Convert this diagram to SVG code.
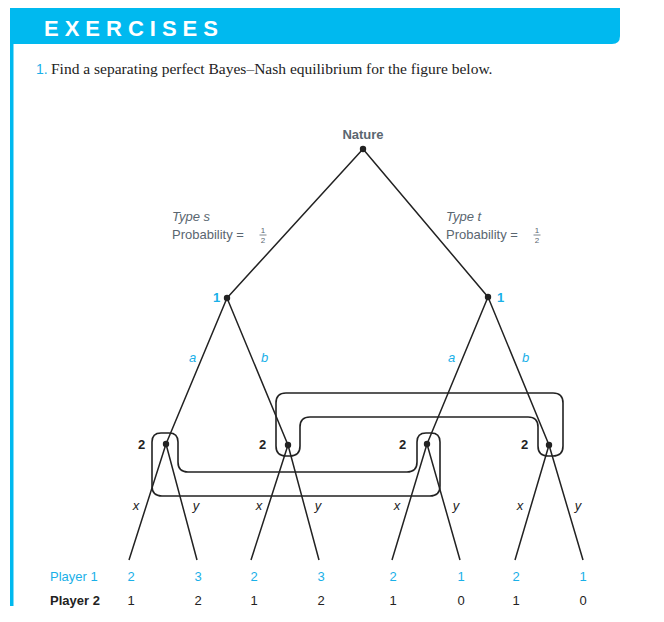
<svg xmlns="http://www.w3.org/2000/svg" width="664" height="622" viewBox="0 0 664 622">
<style>
.e{stroke:#222;stroke-width:1.5;fill:none}
.s{fill:none;stroke:#222;stroke-width:1.6}
.d{fill:#222}
.t{font-family:"Liberation Sans",Arial,sans-serif;font-size:13px}
.g{fill:#5a6670}
.b{fill:#1ab0e8}
.k{fill:#222}
</style>
<rect width="664" height="622" fill="#fff"/>
<path d="M10 8 H620 V36 Q620 44 612 44 H10 Z" fill="#00b9ef"/>
<rect x="10" y="44" width="3.5" height="562" fill="#00b9ef"/>
<text x="44" y="36" font-family="Liberation Sans,Arial,sans-serif" font-weight="bold" font-size="22" fill="#fff" letter-spacing="6">EXERCISES</text>
<text x="36" y="74" font-family="Liberation Sans,Arial,sans-serif" font-size="14" fill="#1ab0e8">1.</text>
<text x="51" y="74" font-family="Liberation Serif,Times New Roman,serif" font-size="15.5" fill="#222">Find a separating perfect Bayes–Nash equilibrium for the figure below.</text>
<g id="connectors">
<path class="e" d="M363 149 L227 298 M363 149 L488 297 M227 298 L166 444 M227 298 L288 445 M488 297 L427 444 M488 297 L549 445 M166 444 L129 560 M166 444 L197 560 M288 445 L251 560 M288 445 L319 560 M427 444 L392 560 M427 444 L460 560 M549 445 L515 560 M549 445 L583 560"/>
<path class="s" d="M152 486 V442 Q152 433 161 433 H169 Q178 433 178 442 V462 Q178 472 188 472 H407 Q417 472 417 462 V442 Q417 433 426 433 H431 Q440 433 440 442 V486 Q440 496 430 496 H162 Q152 496 152 486 Z"/>
<path class="s" d="M276 446 V403 Q276 393 286 393 H553 Q563 393 563 403 V446 Q563 456 553 456 H548 Q538 456 538 446 V427 Q538 417 528 417 H310 Q300 417 300 427 V446 Q300 456 290 456 H286 Q276 456 276 446 Z"/>
</g>
<g id="nature"><circle class="d" cx="363" cy="149" r="3.2"/><text class="t g" x="363" y="139" text-anchor="middle" font-weight="bold">Nature</text></g>
<g id="types" class="t g">
<text x="172" y="221" font-style="italic">Type s</text>
<text x="172" y="239">Probability =</text>
<text x="263" y="233" font-size="8" text-anchor="middle">1</text><line x1="259.5" y1="235" x2="266.5" y2="235" stroke="#5a6670" stroke-width="0.8"/><text x="263" y="243" font-size="8" text-anchor="middle">2</text>
<text x="446" y="221" font-style="italic">Type t</text>
<text x="446" y="239">Probability =</text>
<text x="537" y="233" font-size="8" text-anchor="middle">1</text><line x1="533.5" y1="235" x2="540.5" y2="235" stroke="#5a6670" stroke-width="0.8"/><text x="537" y="243" font-size="8" text-anchor="middle">2</text>
</g>
<g id="p1s"><circle class="d" cx="227" cy="298" r="3.2"/><text class="t b" x="213" y="302" font-weight="bold">1</text>
<text class="t b" x="189" y="362" font-style="italic" font-size="11">a</text><text class="t b" x="261" y="362" font-style="italic" font-size="11">b</text></g>
<g id="p1t"><circle class="d" cx="488" cy="297" r="3.2"/><text class="t b" x="497" y="302" font-weight="bold">1</text>
<text class="t b" x="448" y="362" font-style="italic" font-size="11">a</text><text class="t b" x="522" y="362" font-style="italic" font-size="11">b</text></g>
<g id="n2a"><circle class="d" cx="166" cy="444" r="3.2"/><text class="t k" x="138" y="449" font-weight="bold">2</text></g>
<g id="n2b"><circle class="d" cx="288" cy="445" r="3.2"/><text class="t k" x="259" y="449" font-weight="bold">2</text></g>
<g id="n2c"><circle class="d" cx="427" cy="444" r="3.2"/><text class="t k" x="399" y="449" font-weight="bold">2</text></g>
<g id="n2d"><circle class="d" cx="549" cy="445" r="3.2"/><text class="t k" x="521" y="449" font-weight="bold">2</text></g>
<g id="actions" class="t k" font-style="italic" font-size="12" text-anchor="middle">
<text x="136" y="510">x</text><text x="196" y="510">y</text><text x="259" y="510">x</text><text x="318" y="510">y</text>
<text x="397" y="510">x</text><text x="456" y="510">y</text><text x="520" y="510">x</text><text x="578" y="510">y</text>
</g>
<g id="payoffs" class="t" text-anchor="middle">
<text class="b" x="50" y="581" text-anchor="start">Player 1</text>
<text class="k" x="50" y="605" text-anchor="start" font-weight="bold">Player 2</text>
<g class="b"><text x="131" y="581">2</text><text x="198" y="581">3</text><text x="254" y="581">2</text><text x="321" y="581">3</text><text x="393" y="581">2</text><text x="461" y="581">1</text><text x="516" y="581">2</text><text x="583" y="581">1</text></g>
<g class="k"><text x="131" y="605">1</text><text x="198" y="605">2</text><text x="254" y="605">1</text><text x="321" y="605">2</text><text x="393" y="605">1</text><text x="461" y="605">0</text><text x="516" y="605">1</text><text x="583" y="605">0</text></g>
</g>
</svg>
